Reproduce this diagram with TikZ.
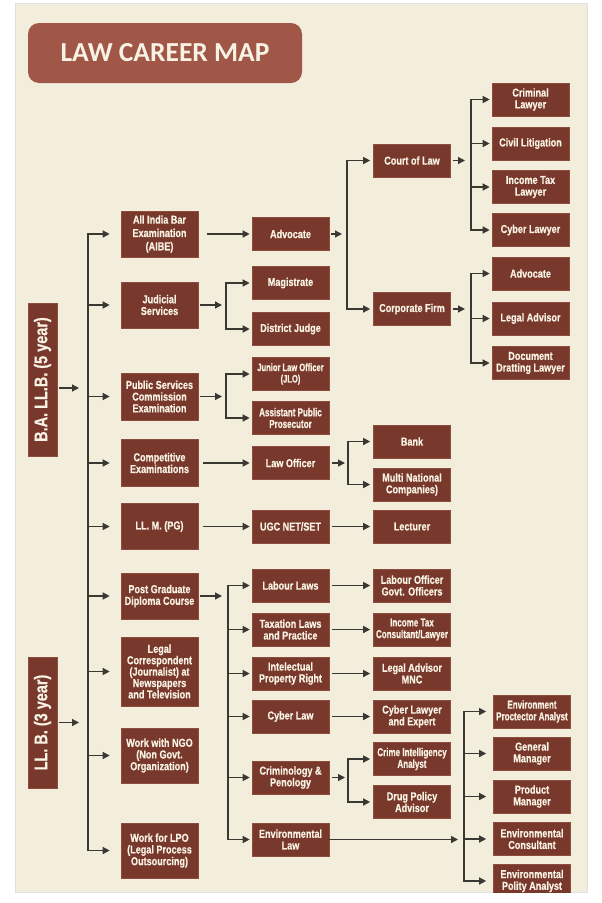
\documentclass[tikz,border=0pt]{standalone}
\usepackage{fontspec}
\usetikzlibrary{arrows.meta,calc}
\newfontfamily\boxfont{Liberation Sans}[FakeStretch=0.79, BoldFeatures={FakeBold=0.6}]
\newfontfamily\narrowfont{Liberation Sans}[FakeStretch=0.70, BoldFeatures={FakeBold=0.6}]
\newfontfamily\titlefont{Carlito}
\definecolor{cream}{RGB}{243,238,220}
\definecolor{boxc}{RGB}{121,56,44}
\definecolor{boxrim}{RGB}{142,76,62}
\definecolor{titlec}{RGB}{160,87,72}
\definecolor{linec}{RGB}{58,56,50}
\definecolor{txtc}{RGB}{248,242,228}
\tikzset{
  box/.style={fill=boxc, draw=boxrim, line width=0.6pt, text=txtc, align=center, inner sep=1pt,
    minimum width=77pt, minimum height=33pt, font=\boxfont\bfseries\fontsize{11.5}{11.7}\selectfont},
  nbox/.style={box, font=\narrowfont\bfseries\fontsize{11.5}{11.7}\selectfont},
  vbox/.style={box, rotate=90, minimum width=#1, minimum height=29pt, font=\boxfont\bfseries\fontsize{18.3}{20}\selectfont},
  ln/.style={draw=linec, line width=1.3pt, line cap=rect},
  arr/.style={draw=linec, line width=1.3pt, -{Triangle[length=7pt,width=7pt]}},
}
\begin{document}
\begin{tikzpicture}[x=1pt,y=-1pt]
\useasboundingbox (0,0) rectangle (602,903);
\fill[white] (0,0) rectangle (602,903);
\fill[cream] (15,3) rectangle (587,892);
\draw[gray!25, line width=0.6pt] (15,3) rectangle (587,892);
\begin{scope}
\clip (15,3) rectangle (587,892);
% title
\node[fill=titlec, rounded corners=11pt, minimum width=274pt, minimum height=60pt, text=txtc,
  font=\titlefont\bfseries\fontsize{27.5}{30}\selectfont] (title) at (165,53) {LAW CAREER MAP};
% degrees
\node[vbox=153pt] (ba) at (42.5,379.5) {B.A. LL.B. (5 year)};
\node[vbox=131pt] (llb) at (42.5,722.5) {LL. B. (3 year)};
% column 1
\node[box, minimum height=46pt, font=\boxfont\bfseries\fontsize{11.5}{13.3}\selectfont] (aibe) at (159.5,234) {All India Bar\\Examination\\(AIBE)};
\node[box, minimum height=46pt] (jud) at (159.5,305) {Judicial\\Services};
\node[box, minimum height=47pt] (psc) at (159.5,396.5) {Public Services\\Commission\\Examination};
\node[box, minimum height=47pt] (comp) at (159.5,463) {Competitive\\Examinations};
\node[box, minimum height=46pt] (llm) at (159.5,526.5) {LL. M. (PG)};
\node[box, minimum height=46pt] (pgdc) at (159.5,596) {Post Graduate\\Diploma Course};
\node[box, minimum height=69pt, font=\boxfont\bfseries\fontsize{11.5}{11.4}\selectfont] (legal) at (159.5,671.5) {Legal\\Correspondent\\(Journalist) at\\Newspapers\\and Television};
\node[box, minimum height=55pt] (ngo) at (159.5,755.5) {Work with NGO\\(Non Govt.\\Organization)};
\node[box, minimum height=55pt] (lpo) at (159.5,850.5) {Work for LPO\\(Legal Process\\Outsourcing)};
% column 2
\node[box] (adv) at (290.5,234) {Advocate};
\node[box] (mag) at (290.5,283) {Magistrate};
\node[box] (dj) at (290.5,329) {District Judge};
\node[nbox, font=\narrowfont\bfseries\fontsize{10.8}{11.4}\selectfont] (jlo) at (290.5,374) {Junior Law Officer\\(JLO)};
\node[nbox] (app) at (290.5,418) {Assistant Public\\Prosecutor};
\node[box] (lo) at (290.5,463) {Law Officer};
\node[box] (ugc) at (290.5,526.5) {UGC NET/SET};
\node[box] (labour) at (290.5,585.5) {Labour Laws};
\node[box] (tax) at (290.5,629.5) {Taxation Laws\\and Practice};
\node[box] (ipr) at (290.5,673.5) {Intelectual\\Property Right};
\node[box] (cyber) at (290.5,716.5) {Cyber Law};
\node[box] (crim) at (290.5,777.5) {Criminology \&\\Penology};
\node[box] (env) at (290.5,839.5) {Environmental\\Law};
% column 3
\node[box] (court) at (412,160.5) {Court of Law};
\node[box] (corp) at (412,309) {Corporate Firm};
\node[box] (bank) at (412,441.5) {Bank};
\node[box] (mnc) at (412,484.5) {Multi National\\Companies)};
\node[box] (lect) at (412,526.5) {Lecturer};
\node[box] (lofficer) at (412,585.5) {Labour Officer\\Govt. Officers};
\node[nbox] (itc) at (412,629.5) {Income Tax\\Consultant/Lawyer};
\node[box] (lamnc) at (412,673.5) {Legal Advisor\\MNC};
\node[box] (cle) at (412,716.5) {Cyber Lawyer\\and Expert};
\node[nbox] (cia) at (412,759) {Crime Intelligency\\Analyst};
\node[box] (dpa) at (412,802) {Drug Policy\\Advisor};
% column 4
\node[box] (crl) at (530.5,99.5) {Criminal\\Lawyer};
\node[box] (civ) at (530.5,143.5) {Civil Litigation};
\node[box] (itl) at (530.5,187) {Income Tax\\Lawyer};
\node[box] (cyl) at (530.5,230) {Cyber Lawyer};
\node[box] (adv2) at (530.5,273.5) {Advocate};
\node[box] (la) at (530.5,318.5) {Legal Advisor};
\node[box] (ddl) at (530.5,363) {Document\\Dratting Lawyer};
% column 5
\node[nbox] (epa) at (532,711.5) {Environment\\Proctector Analyst};
\node[box] (gm) at (532,753.5) {General\\Manager};
\node[box] (pm) at (532,796.5) {Product\\Manager};
\node[box] (ec) at (532,839) {Environmental\\Consultant};
\node[box] (epol) at (532,881) {Environmental\\Polity Analyst};
% fork positions
\coordinate (T) at (88,0);
\coordinate (F1) at (226,0);
\coordinate (F2) at (228,0);
\coordinate (F3) at (347,0);
\coordinate (F4) at (348,0);
\coordinate (F5) at (464,0);
\coordinate (F6) at (471,0);
% trunk
\draw[arr, shorten <=2pt, shorten >=9pt] ($(ba.south)+(0,8.5)$) -- ($(T |- ba.south)+(0,8.5)$);
\draw[arr, shorten <=2pt, shorten >=9pt] (llb.south) -- (T |- llb.south);
\draw[ln] (T |- aibe) -- (T |- lpo);
\foreach \n in {aibe,jud,psc,comp,llm,pgdc,legal,ngo,lpo}
  \draw[arr, shorten >=11pt] (T |- \n) -- (\n.west);
% column 1 -> column 2
\draw[arr, shorten <=9pt, shorten >=2pt] (aibe.east) -- (adv.west);
\draw[arr, shorten <=5pt, shorten >=2pt] (comp.east) -- (lo.west);
\draw[arr, shorten <=5pt, shorten >=2pt] (llm.east) -- (ugc.west);
\draw[arr, shorten <=2pt, shorten >=4pt] (jud.east) -- (F1 |- jud);
\draw[ln] (F1 |- mag) -- (F1 |- dj);
\draw[arr, shorten >=2pt] (F1 |- mag) -- (mag.west);
\draw[arr, shorten >=2pt] (F1 |- dj) -- (dj.west);
\draw[arr, shorten <=2pt, shorten >=4pt] (psc.east) -- (F1 |- psc);
\draw[ln] (F1 |- jlo) -- (F1 |- app);
\draw[arr, shorten >=2pt] (F1 |- jlo) -- (jlo.west);
\draw[arr, shorten >=2pt] (F1 |- app) -- (app.west);
\draw[arr, shorten <=2pt, shorten >=6pt] (pgdc.east) -- (F2 |- pgdc);
\draw[ln] (F2 |- labour) -- (F2 |- env);
\foreach \n in {labour,tax,ipr,cyber,crim,env}
  \draw[arr, shorten >=2pt] (F2 |- \n) -- (\n.west);
% column 2 -> column 3
\draw[arr, shorten <=2pt, shorten >=5pt] (adv.east) -- (F3 |- adv);
\draw[ln] (F3 |- court) -- (F3 |- corp);
\draw[arr, shorten >=3pt] (F3 |- court) -- (court.west);
\draw[arr, shorten >=3pt] (F3 |- corp) -- (corp.west);
\draw[arr, shorten <=3pt, shorten >=3pt] (lo.east) -- (F4 |- lo);
\draw[ln] (F4 |- bank) -- (F4 |- mnc);
\draw[arr, shorten >=3pt] (F4 |- bank) -- (bank.west);
\draw[arr, shorten >=3pt] (F4 |- mnc) -- (mnc.west);
\draw[arr, shorten <=3pt, shorten >=3pt] (ugc.east) -- (lect.west);
\draw[arr, shorten <=3pt, shorten >=3pt] (labour.east) -- (lofficer.west);
\draw[arr, shorten <=3pt, shorten >=3pt] (tax.east) -- (itc.west);
\draw[arr, shorten <=3pt, shorten >=3pt] (ipr.east) -- (lamnc.west);
\draw[arr, shorten <=3pt, shorten >=3pt] (cyber.east) -- (cle.west);
\draw[arr, shorten <=3pt, shorten >=3pt] (crim.east) -- (F4 |- crim);
\draw[ln] (F4 |- cia) -- (F4 |- dpa);
\draw[arr, shorten >=3pt] (F4 |- cia) -- (cia.west);
\draw[arr, shorten >=3pt] (F4 |- dpa) -- (dpa.west);
\draw[arr, shorten >=6pt] (env.east) -- (F5 |- env);
\draw[ln] (F5 |- epa) -- (F5 |- epol);
\foreach \n in {epa,gm,pm,ec,epol}
  \draw[arr, shorten >=7pt] (F5 |- \n) -- (\n.west);
% column 3 -> column 4
\draw[arr, shorten <=2pt, shorten >=6pt] (court.east) -- (F6 |- court);
\draw[ln] (F6 |- crl) -- (F6 |- cyl);
\foreach \n in {crl,civ,itl,cyl}
  \draw[arr, shorten >=2pt] (F6 |- \n) -- (\n.west);
\draw[arr, shorten <=2pt, shorten >=6pt] (corp.east) -- (F6 |- corp);
\draw[ln] (F6 |- adv2) -- (F6 |- ddl);
\foreach \n in {adv2,la,ddl}
  \draw[arr, shorten >=2pt] (F6 |- \n) -- (\n.west);
\end{scope}
\end{tikzpicture}
\end{document}
